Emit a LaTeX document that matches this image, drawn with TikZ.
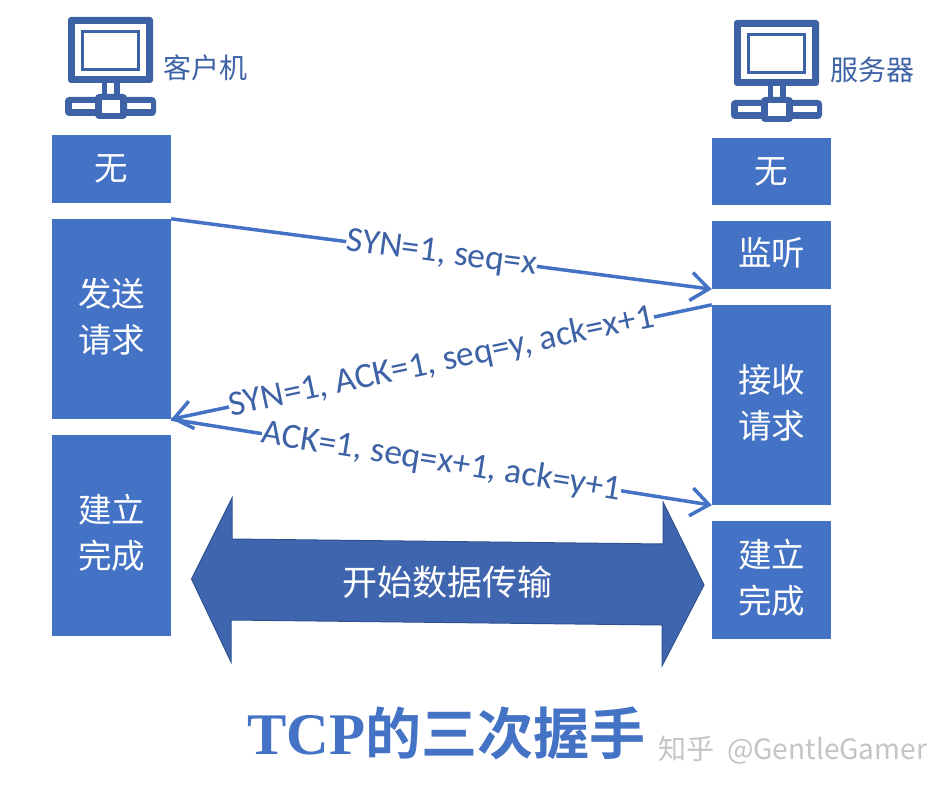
\documentclass[tikz,border=0pt]{standalone}
\usepackage{fontspec}
\usetikzlibrary{arrows.meta}
\setmainfont{Carlito}
\newfontfamily\cjk{Noto Sans CJK SC}
\newfontfamily\titlefont{Noto Sans CJK SC Bold}
\newfontfamily\titlelatin{Liberation Serif Bold}
\definecolor{boxblue}{HTML}{4472C4}
\definecolor{textblue}{HTML}{3E62A6}
\definecolor{bandblue}{HTML}{3F65AE}
\definecolor{bandedge}{HTML}{2F528F}
\definecolor{markgray}{HTML}{C4C4C4}
\tikzset{
    stagebox/.style={fill=boxblue,text=white,inner sep=0pt,minimum width=119pt,align=center,
        font=\cjk\fontsize{33.5}{46}\selectfont},
    liftedbox/.style={stagebox,execute at end node={\rule[-8pt]{0pt}{0pt}}},
    msgline/.style={-{Straight Barb[length=18pt,width=28pt,line width=3.5pt]},boxblue,line width=3.5pt},
    msglabel/.style={sloped,fill=white,inner sep=0pt,text=textblue,font=\fontsize{35.5}{38}\selectfont},
    hostlabel/.style={text=textblue,inner sep=0pt,font=\cjk\fontsize{28}{30}\selectfont},
    pics/hosticon/.style={code={
        \fill[textblue,rounded corners=3pt] (3,-3) rectangle (88,63);
        \fill[white] (10,4) rectangle (81,56);
        \fill[textblue] (16,10) rectangle (75,51);
        \fill[white] (19,13) rectangle (72,48);
        \fill[textblue] (37,63) rectangle (55,80);
        \fill[white] (42,63) rectangle (49,77);
        \fill[textblue,rounded corners=4pt] (0,77) rectangle (91,96);
        \fill[white] (7,83) rectangle (32,89);
        \fill[white] (60,83) rectangle (86,89);
        \fill[textblue,rounded corners=4pt] (30,74) rectangle (62,99);
        \fill[white] (37,80) rectangle (55,93);
    }}
}
\begin{document}
\begin{tikzpicture}[x=1pt,y=-1pt]
    \useasboundingbox (0,0) rectangle (952,789);
    \pic at (65,20) {hosticon};
    \pic at (731,23) {hosticon};
    \node[hostlabel,anchor=west] (client) at (163,68) {客户机};
    \node[hostlabel,anchor=west] (server) at (830,70) {服务器};
    \node[stagebox,minimum height=68pt] (cnone) at (111.5,169) {无};
    \node[liftedbox,minimum height=200pt] (csend) at (111.5,319) {发送\\请求};
    \node[liftedbox,minimum height=201pt] (cdone) at (111.5,535.5) {建立\\完成};
    \node[stagebox,minimum height=67pt] (snone) at (771.5,171.5) {无};
    \node[liftedbox,minimum height=68pt] (slisten) at (771.5,255) {监听};
    \node[liftedbox,minimum height=200pt] (srecv) at (771.5,405) {接收\\请求};
    \node[liftedbox,minimum height=118pt] (sdone) at (771.5,580) {建立\\完成};
    \draw[msgline] (csend.north east) -- node[msglabel] (first) {SYN=1, seq=x} (slisten.south west);
    \draw[msgline] (srecv.north west) -- node[msglabel] (second) {SYN=1, ACK=1, seq=y, ack=x+1} (csend.south east);
    \draw[msgline] (csend.south east) -- node[msglabel] (third) {ACK=1, seq=x+1, ack=y+1} (srecv.south west);
    \draw[fill=bandblue,draw=bandedge,line width=1pt] (191.5,579) -- (232,498) -- (232,539) -- (663,544)
        -- (663,502) -- (704,585) -- (662,666) -- (662,625) -- (231,620) -- (231,662) -- cycle;
    \node[text=white,inner sep=0pt,font=\cjk\fontsize{35}{38}\selectfont] (start) at (447,582) {开始数据传输};
    \node[text=boxblue,inner sep=0pt,anchor=west] (title) at (247,733)
        {\titlelatin\fontsize{59}{62}\selectfont TCP\titlefont\fontsize{56}{62}\selectfont 的三次握手};
    \node[text=markgray,inner sep=0pt,anchor=west] (mark) at (658,750)
        {\cjk\fontsize{28}{30}\selectfont 知乎\hspace{13pt}@GentleGamer};
\end{tikzpicture}
\end{document}
